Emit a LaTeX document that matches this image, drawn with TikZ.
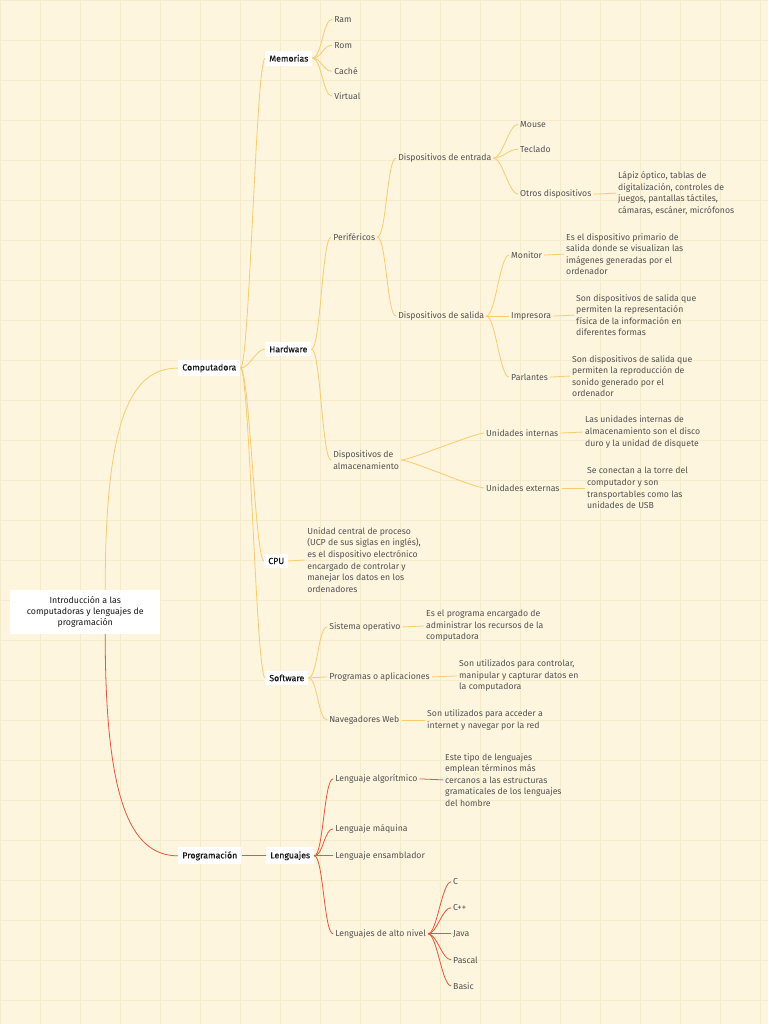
\documentclass[tikz,border=0pt]{standalone}
\usepackage{fontspec}
\setmainfont{Fira Sans}
\definecolor{bgc}{HTML}{FDF5DE}
\definecolor{grc}{HTML}{F5EACB}
\definecolor{ylc}{HTML}{F9CB6E}
\definecolor{rdc}{HTML}{E4583A}
\begin{document}
\begin{tikzpicture}[x=1pt,y=-1pt,
  txt/.style={anchor=west,inner sep=2pt,text=black!68,font=\fontsize{8.7}{11.6}\selectfont,align=left},
  box/.style={anchor=west,inner sep=4pt,fill=white,text=black!90,font=\fontsize{8.8}{11}\selectfont\addfontfeature{FakeBold=0.3}},
  yl/.style={draw=ylc,line width=0.8pt},
  rd/.style={draw=rdc,line width=0.8pt}]
\fill[bgc] (0,0) rectangle (768,1024);
\foreach \i in {0,40,...,760} {\draw[grc,line width=0.5pt] (\i,0) -- (\i,1024);}
\foreach \i in {0,40,...,1020} {\draw[grc,line width=0.5pt] (0,\i) -- (768,\i);}
\useasboundingbox (0,0) rectangle (768,1024);
\newcommand\lk[3]{\draw[#1] (#2.east) .. controls +(9,0) and +(-9,0) .. (#3.west);}
\newcommand\st[3]{\draw[#1] (#2.east) -- (#3.west);}
% root
\node[fill=white,inner sep=5pt,align=center,text=black!90,font=\fontsize{8.8}{11}\selectfont,minimum width=150,minimum height=44] (root) at (85,612) {Introducción a las\\computadoras y lenguajes de\\programación};
\node[box] (comp) at (178,368) {Computadora};
\node[box] (prog) at (178,856) {Programación};
\draw[yl] (105,590) .. controls (105,420) and (130,368) .. (comp.west);
\draw[rd] (105,634) .. controls (105,800) and (130,856) .. (prog.west);
% level 2
\node[box] (mem) at (265,58) {Memorias};
\node[box] (hw) at (265,349) {Hardware};
\node[box] (cpu) at (264,561) {CPU};
\node[box] (sw) at (265,678) {Software};
\node[box] (len) at (266,856) {Lenguajes};
\foreach \c in {mem,hw,cpu,sw} {\lk{yl}{comp}{\c}}
\st{rd}{prog}{len}
% memorias
\node[txt] (ram) at (332,19) {Ram};
\node[txt] (rom) at (332,45) {Rom};
\node[txt] (cache) at (332,71) {Caché};
\node[txt] (virt) at (332,96) {Virtual};
\foreach \c in {ram,rom,cache,virt} {\lk{yl}{mem}{\c}}
% hardware
\node[txt] (per) at (331,237) {Periféricos};
\node[txt] (alm) at (331,460) {Dispositivos de\\almacenamiento};
\lk{yl}{hw}{per}\lk{yl}{hw}{alm}
\node[txt] (ent) at (396,158) {Dispositivos de entrada};
\node[txt] (sal) at (396,316) {Dispositivos de salida};
\lk{yl}{per}{ent}\lk{yl}{per}{sal}
\node[txt] (mouse) at (518,124) {Mouse};
\node[txt] (tec) at (518,149) {Teclado};
\node[txt] (otros) at (518,194) {Otros dispositivos};
\foreach \c in {mouse,tec,otros} {\lk{yl}{ent}{\c}}
\node[txt] (otrosd) at (616,193) {Lápiz óptico, tablas de\\digitalización, controles de\\juegos, pantallas táctiles,\\cámaras, escáner, micrófonos};
\st{yl}{otros}{otrosd}
\node[txt] (mon) at (509,255) {Monitor};
\node[txt] (imp) at (509,316) {Impresora};
\node[txt] (par) at (509,377) {Parlantes};
\foreach \c in {mon,imp,par} {\lk{yl}{sal}{\c}}
\node[txt] (mond) at (564,254) {Es el dispositivo primario de\\salida donde se visualizan las\\imágenes generadas por el\\ordenador};
\node[txt] (impd) at (574,315) {Son dispositivos de salida que\\permiten la representación\\física de la información en\\diferentes formas};
\node[txt] (pard) at (570,376) {Son dispositivos de salida que\\permiten la reproducción de\\sonido generado por el\\ordenador};
\st{yl}{mon}{mond}\st{yl}{imp}{impd}\st{yl}{par}{pard}
\node[txt] (uint) at (484,433) {Unidades internas};
\node[txt] (uext) at (484,488) {Unidades externas};
\lk{yl}{alm}{uint}\lk{yl}{alm}{uext}
\node[txt] (uintd) at (583,432) {Las unidades internas de\\almacenamiento son el disco\\duro y la unidad de disquete};
\node[txt] (uextd) at (585,488) {Se conectan a la torre del\\computador y son\\transportables como las\\unidades de USB};
\st{yl}{uint}{uintd}\st{yl}{uext}{uextd}
% cpu
\node[txt] (cpud) at (305,560) {Unidad central de proceso\\(UCP de sus siglas en inglés),\\es el dispositivo electrónico\\encargado de controlar y\\manejar los datos en los\\ordenadores};
\st{yl}{cpu}{cpud}
% software
\node[txt] (so) at (327,627) {Sistema operativo};
\node[txt] (pa) at (327,677) {Programas o aplicaciones};
\node[txt] (nw) at (327,720) {Navegadores Web};
\foreach \c in {so,pa,nw} {\lk{yl}{sw}{\c}}
\node[txt] (sod) at (424,626) {Es el programa encargado de\\administrar los recursos de la\\computadora};
\node[txt] (pad) at (457,676) {Son utilizados para controlar,\\manipular y capturar datos en\\la computadora};
\node[txt] (nwd) at (425,720) {Son utilizados para acceder a\\internet y navegar por la red};
\st{yl}{so}{sod}\st{yl}{pa}{pad}\st{yl}{nw}{nwd}
% lenguajes
\node[txt] (la) at (333,779) {Lenguaje algorítmico};
\node[txt] (lm) at (333,829) {Lenguaje máquina};
\node[txt] (le) at (333,856) {Lenguaje ensamblador};
\node[txt] (lan) at (333,934) {Lenguajes de alto nivel};
\foreach \c in {la,lm,le,lan} {\lk{rd}{len}{\c}}
\node[txt] (lad) at (443,780) {Este tipo de lenguajes\\emplean términos más\\cercanos a las estructuras\\gramaticales de los lenguajes\\del hombre};
\st{rd}{la}{lad}
\node[txt] (c) at (451,882) {C};
\node[txt] (cpp) at (451,908) {C++};
\node[txt] (java) at (451,934) {Java};
\node[txt] (pas) at (451,960) {Pascal};
\node[txt] (bas) at (451,986) {Basic};
\foreach \c in {c,cpp,java,pas,bas} {\lk{rd}{lan}{\c}}
\end{tikzpicture}
\end{document}
